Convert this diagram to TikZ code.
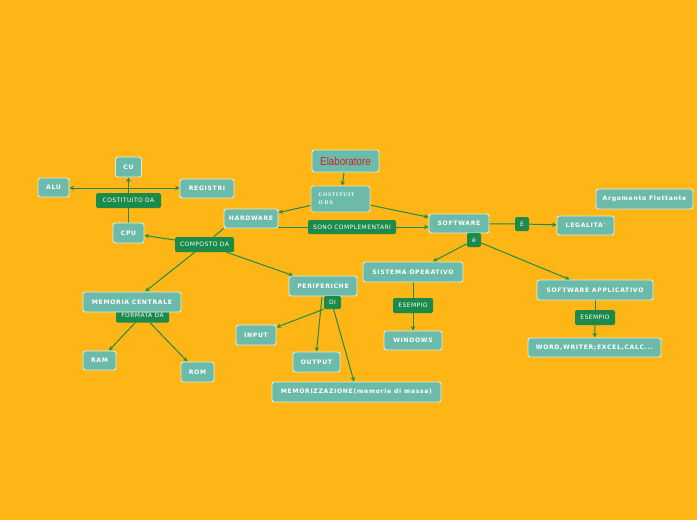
\documentclass[tikz,border=0pt]{standalone}
\usepackage{fontspec}
\setmainfont{DejaVu Sans}
\newfontfamily\boxf[LetterSpace=11]{DejaVu Sans}
\newfontfamily\labf[LetterSpace=7]{DejaVu Sans}
\newfontfamily\narrowf{Liberation Sans}
\newfontfamily\seriff[LetterSpace=14]{Liberation Serif}
\usetikzlibrary{arrows.meta}
\definecolor{bgc}{RGB}{253,182,22}
\definecolor{nodefill}{RGB}{108,187,170}
\definecolor{nodeborder}{RGB}{222,238,222}
\definecolor{labfill}{RGB}{27,138,75}
\definecolor{linec}{RGB}{30,140,76}
\definecolor{redt}{RGB}{200,36,43}
\pgfdeclarelayer{bglayer}
\pgfdeclarelayer{edges}
\pgfsetlayers{bglayer,edges,main}
\begin{document}
\begin{tikzpicture}[x=1pt,y=-1pt,
 box/.style={rounded corners=2.5pt, fill=nodefill, draw=nodeborder, line width=0.9pt, text=white,
   font=\fontsize{6.1}{7}\selectfont\boxf\bfseries, minimum height=19pt, inner sep=0pt},
 lab/.style={rounded corners=1.5pt, fill=labfill, text=white,
   font=\fontsize{6}{6.5}\selectfont\labf, minimum height=14pt, inner sep=0pt},
 link/.style={draw=linec, line width=1pt},
 arr/.style={link, -{Stealth[length=4.5pt,width=4.5pt]}},
]
\begin{pgfonlayer}{bglayer}
\fill[bgc] (0,0) rectangle (697,520);
\end{pgfonlayer}
\useasboundingbox (0,0) rectangle (697,520);

% main nodes
\node[box, minimum width=67pt, minimum height=22pt, font=\fontsize{11.5}{12}\selectfont\narrowf, text=redt] (elab) at (345.5,161) {\scalebox{0.85}[1]{Elaboratore}};
\node[box, minimum width=59pt, minimum height=26pt, draw={rgb,255:red,235;green,225;blue,170}, text width=44pt, align=left,
  font=\fontsize{5.4}{8}\selectfont\seriff\bfseries] (cost) at (340.5,199) {COSTITUIT\\O DA};
\node[box, minimum width=54pt] (hw) at (251,218.5) {HARDWARE};
\node[box, minimum width=60pt] (sw) at (459,223.5) {SOFTWARE};
\node[box, minimum width=57pt] (leg) at (585.5,225.5) {LEGALITA'};
\node[box, minimum width=97pt, minimum height=20pt] (arg) at (644.5,199) {Argomento Flottante};
\node[box, minimum width=26pt, minimum height=20pt] (cu) at (128.5,167) {CU};
\node[box, minimum width=31pt] (alu) at (53.5,187.5) {ALU};
\node[box, minimum width=54pt] (reg) at (207,188.5) {REGISTRI};
\node[box, minimum width=31pt, minimum height=20pt] (cpu) at (128.5,233) {CPU};
\node[box, minimum width=100pt, minimum height=20pt] (so) at (413,272) {SISTEMA OPERATIVO};
\node[box, minimum width=116pt, minimum height=20pt] (sa) at (595,290) {SOFTWARE APPLICATIVO};
\node[box, minimum width=58pt] (win) at (413,340.5) {WINDOWS};
\node[box, minimum width=133pt] (word) at (594.5,347.5) {WORD,WRITER;EXCEL,CALC...};
\node[lab, minimum width=53pt, minimum height=15pt] (form) at (142.5,315) {FORMATA DA};
\node[box, minimum width=98pt, minimum height=20pt] (mem) at (132,302) {MEMORIA CENTRALE};
\node[box, minimum width=33pt] (ram) at (99.5,360.5) {RAM};
\node[box, minimum width=33pt, minimum height=20pt] (rom) at (197.5,372) {ROM};
\node[box, minimum width=68pt, minimum height=20pt] (perif) at (323,286) {PERIFERICHE};
\node[box, minimum width=40pt, minimum height=20pt] (input) at (256,335) {INPUT};
\node[box, minimum width=47pt, minimum height=20pt] (output) at (316.5,362) {OUTPUT};
\node[box, minimum width=169pt, minimum height=20pt] (memo) at (356.5,392) {MEMORIZZAZIONE(memorie di massa)};

% labels
\node[lab, minimum width=65pt, minimum height=15pt] (costda) at (128.5,200.5) {COSTITUITO DA};
\node[lab, minimum width=59pt, minimum height=15pt] (comp) at (204.5,244.5) {COMPOSTO DA};
\node[lab, minimum width=88pt] (sono) at (352,227) {SONO COMPLEMENTARI};
\node[lab, minimum width=14pt] (e) at (522,224) {E};
\node[lab, minimum width=14pt] (eg) at (474,240) {è};
\node[lab, minimum width=40pt, minimum height=15pt] (es1) at (413,305.5) {ESEMPIO};
\node[lab, minimum width=40pt, minimum height=15pt] (es2) at (595,317.5) {ESEMPIO};
\node[lab, minimum width=17pt, minimum height=13pt] (di) at (332.5,302.5) {DI};
\coordinate (j) at (128.5,188);

\begin{pgfonlayer}{edges}
\draw[arr] (elab) -- (cost);
\draw[arr] (cost) -- (hw);
\draw[arr] (cost) -- (sw);
\draw[link] (sono) -- (sono -| hw.east);
\draw[arr] (sono) -- (sono -| sw.west);
\draw[link] (cpu) -- (costda);
\draw[arr] (costda) -- (cu);
\draw[arr] (j) -- (j -| alu.east);
\draw[arr] (j) -- (j -| reg.west);
\draw[link] (hw.south west) -- (comp);
\draw[arr] (comp) -- (cpu);
\draw[arr] (comp) -- (mem);
\draw[arr] (comp) -- (perif);
\draw[link] (perif) -- (di);
\draw[arr] (di.south west) -- (input);
\draw[arr] ([xshift=-1pt]perif.south) -- (output.north);
\draw[arr] ([xshift=7pt]perif.south) -- ([xshift=-2.5pt]memo.north);
\draw[link] (sw) -- (e);
\draw[arr] (e) -- (leg);
\draw[link] (sw) -- (eg);
\draw[arr] (eg) -- (so);
\draw[arr] (eg) -- (sa);
\draw[link] (so) -- (es1);
\draw[arr] (es1) -- (win);
\draw[link] (sa) -- (es2);
\draw[arr] (es2) -- (word);
\draw[link] (mem) -- (form);
\draw[arr] (form) -- (ram);
\draw[arr] (form) -- (rom);
\end{pgfonlayer}
\end{tikzpicture}
\end{document}
